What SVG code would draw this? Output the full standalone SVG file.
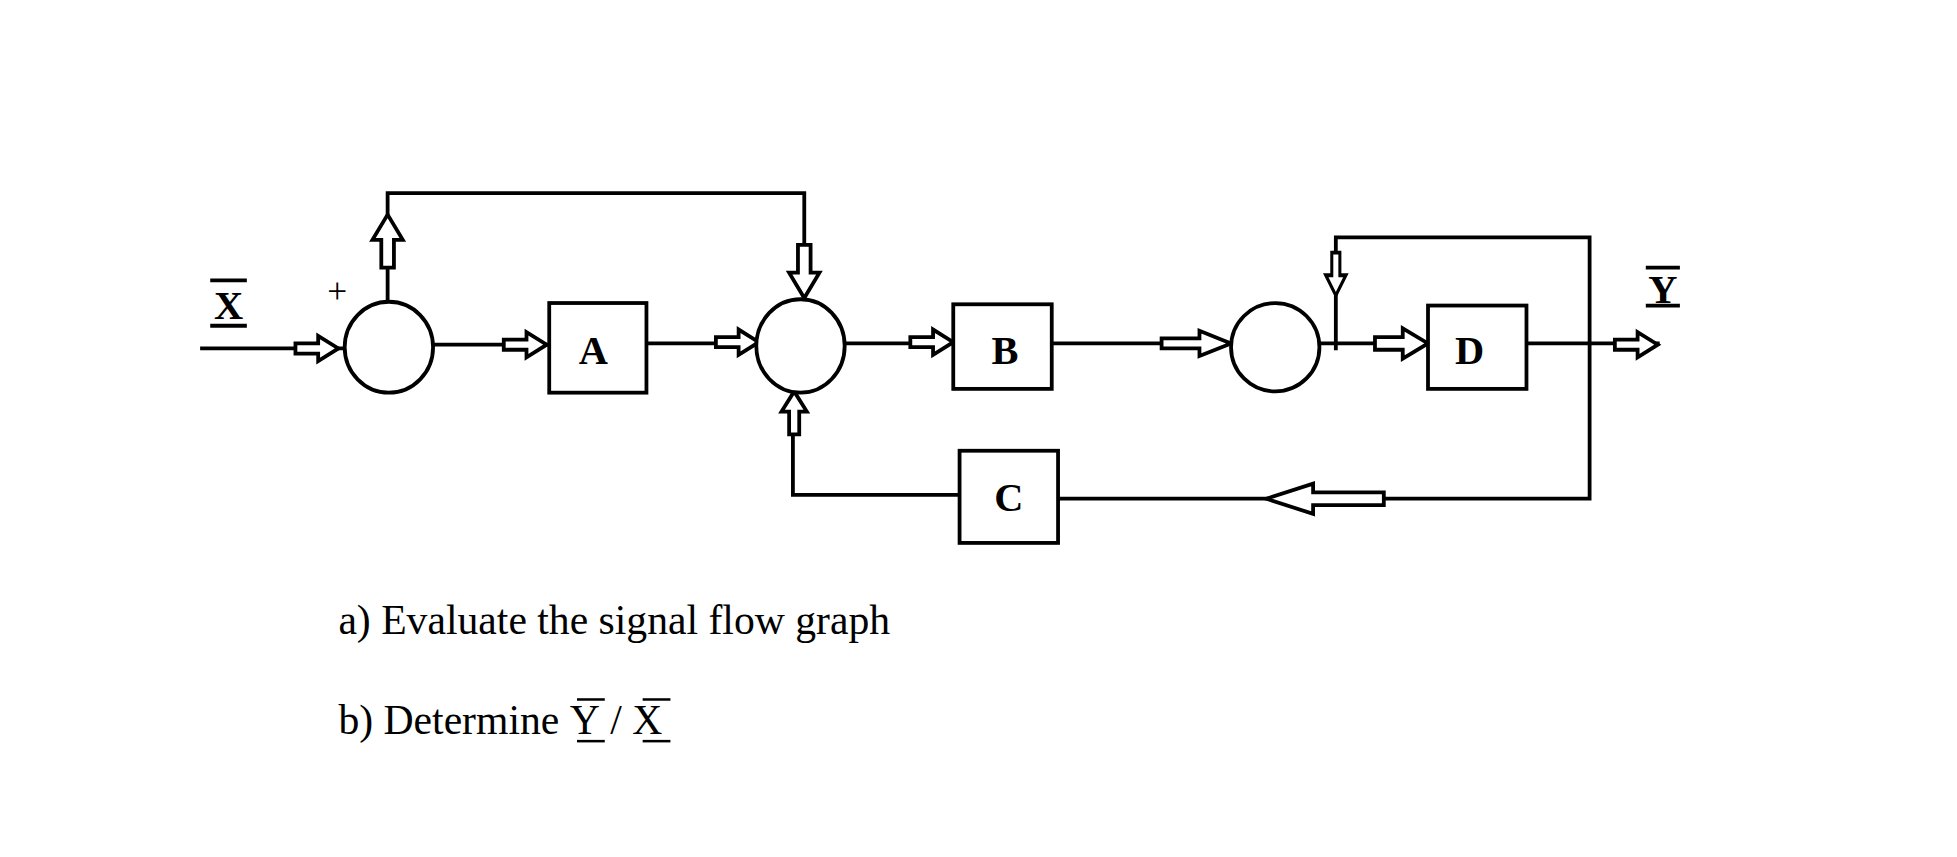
<svg xmlns="http://www.w3.org/2000/svg" xmlns:xlink="http://www.w3.org/1999/xlink" width="1957" height="857" viewBox="0 0 1957 857">
<style>
.l{fill:none;stroke:#000;stroke-width:3;stroke-linecap:square}
.n{fill:#fff;stroke:#000;stroke-width:3}
.a{fill:#fff;stroke:#000;stroke-width:3;stroke-linejoin:miter}
.lb{font-family:"Liberation Serif",serif;font-weight:bold;font-size:32px;text-anchor:middle}
.t{font-family:"Liberation Serif",serif;font-size:33px}
</style>
<defs>
<polygon id="s" class="a" points="-34,-4 -16,-4 -16,-10 0,0 -16,10 -16,4 -34,4"/>
<polygon id="m" class="a" points="-42,-5 -20,-5 -20,-12 0,0 -20,12 -20,5 -42,5"/>
</defs>
<rect width="1957" height="857" fill="#fff"/>
<g transform="scale(1.2626)">
<g id="connectors">
<polyline class="l" points="160,276 272,276"/>
<polyline class="l" points="307,239 307,153 637,153 637,238"/>
<line class="l" x1="344" y1="273" x2="435" y2="273"/>
<line class="l" x1="512" y1="272" x2="600" y2="272"/>
<line class="l" x1="670" y1="272" x2="755" y2="272"/>
<line class="l" x1="833" y1="272" x2="975" y2="272"/>
<line class="l" x1="1045" y1="272" x2="1131" y2="272"/>
<polyline class="l" points="1058,276 1058,188 1259,188 1259,395 838,395"/>
<line class="l" x1="1209" y1="272" x2="1313" y2="272"/>
<polyline class="l" points="760,392 628,392 628,310"/>
<use href="#s" transform="translate(268,276)"/>
<use href="#s" transform="translate(433,273)"/>
<use href="#s" transform="translate(601,271)"/>
<use href="#s" transform="translate(755,271)"/>
<use href="#m" transform="translate(1131,272)"/>
<use href="#s" transform="translate(1313,273)"/>
<use href="#m" transform="translate(307,170) rotate(-90)"/>
<use href="#m" transform="translate(637,236) rotate(90)"/>
<use href="#s" transform="translate(629,310) rotate(-90)"/>
<use href="#s" transform="translate(1058,234) rotate(90) scale(1,0.8)"/>
<polygon class="a" points="920,268 950,268 950,262 975,272 950,282 950,276 920,276"/>
<polygon class="a" points="1096,390 1040,390 1040,383 1003,395 1040,407 1040,400 1096,400"/>
</g>
<g id="sum1"><ellipse class="n" cx="308" cy="275" rx="35" ry="36"/></g>
<g id="sum2"><ellipse class="n" cx="634" cy="274" rx="35" ry="37"/></g>
<g id="sum3"><ellipse class="n" cx="1010" cy="275" rx="35" ry="35"/></g>
<g id="A"><rect class="n" x="435" y="240" width="77" height="71"/><text class="lb" x="470" y="288">A</text></g>
<g id="B"><rect class="n" x="755" y="241" width="78" height="67"/><text class="lb" x="796" y="288">B</text></g>
<g id="C"><rect class="n" x="760" y="357" width="78" height="73"/><text class="lb" x="799" y="405">C</text></g>
<g id="D"><rect class="n" x="1131" y="242" width="78" height="66"/><text class="lb" x="1164" y="288">D</text></g>
<g id="X">
<text class="lb" x="181" y="253">X</text>
<line class="l" x1="168" y1="222" x2="194" y2="222"/>
<line class="l" x1="168" y1="258" x2="194" y2="258"/>
</g>
<text x="267" y="240" style="font-family:'Liberation Serif',serif;font-size:28px;text-anchor:middle">+</text>
<g id="Y">
<text class="lb" x="1317" y="240">Y</text>
<line class="l" x1="1305" y1="212" x2="1329" y2="212"/>
<line class="l" x1="1305" y1="242" x2="1329" y2="242"/>
</g>
<text class="t" x="268" y="502">a) Evaluate the signal flow graph</text>
<text class="t" x="268" y="581">b) Determine <tspan>Y</tspan> / <tspan>X</tspan></text>
<g class="l" style="stroke-width:2">
<line x1="458" y1="554" x2="478" y2="554"/><line x1="458" y1="587" x2="478" y2="587"/>
<line x1="510" y1="554" x2="530" y2="554"/><line x1="510" y1="587" x2="530" y2="587"/>
</g>
</g>
</svg>
